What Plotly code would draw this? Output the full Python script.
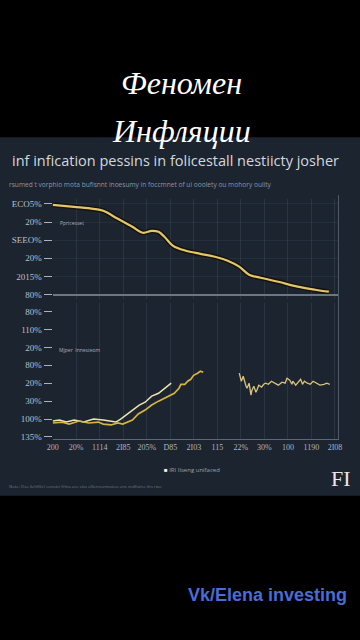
import plotly.graph_objects as go

# ---------------- data ----------------
x_tick_labels = ["200", "20%", "1114", "2I85", "205%", "D85", "2I03", "115", "22%", "30%", "100", "1190", "2I08"]
top_tick_labels = ["80%", "2015%", "20%", "SEEO%", "20%", "ECO5%"]          # values 0..5
bottom_tick_labels = ["135%", "100%", "30%", "20%", "80%", "20%", "110%", "80%"]  # values 0..7

top_x = [0.00, 0.91, 1.74, 2.15, 2.77, 3.39, 3.84, 4.21, 4.50, 4.75, 5.12, 5.66, 6.28, 6.90,
         7.44, 7.93, 8.35, 8.84, 9.59, 10.41, 11.16, 11.74]
top_y = [4.95, 4.84, 4.73, 4.62, 4.18, 3.74, 3.41, 3.52, 3.46, 3.19, 2.69, 2.42, 2.25, 2.09,
         1.87, 1.54, 1.10, 0.93, 0.71, 0.44, 0.27, 0.16]

gold_x = [0.00, 0.41, 0.70, 1.12, 1.53, 1.94, 2.15, 2.48, 2.77, 2.98, 3.39, 3.64, 3.93, 4.21,
          4.50, 4.83, 5.17, 5.37, 5.45, 5.62, 5.74, 5.87, 5.99, 6.16, 6.28, 6.40]
gold_y = [0.78, 0.83, 0.72, 0.89, 0.78, 0.83, 0.72, 0.67, 0.78, 0.72, 0.94, 1.28, 1.50, 1.78,
          2.00, 2.22, 2.44, 2.72, 2.94, 2.94, 3.11, 3.22, 3.44, 3.56, 3.67, 3.61]

pale_x = [0.00, 0.29, 0.58, 0.91, 1.32, 1.74, 2.15, 2.69, 2.89, 3.10, 3.39, 3.68, 3.93, 4.21,
          4.50, 4.75, 5.04]
pale_y = [0.89, 0.94, 0.83, 0.94, 0.83, 1.00, 0.94, 0.83, 1.00, 1.22, 1.50, 1.78, 1.94, 2.28,
          2.44, 2.72, 3.00]

right_x = [7.93, 7.98, 8.02, 8.10, 8.14, 8.22, 8.26, 8.35, 8.43, 8.47, 8.55, 8.64, 8.68, 8.76,
           8.88, 8.97, 9.05, 9.17, 9.30, 9.46, 9.59, 9.75, 9.88, 9.96, 10.08, 10.17, 10.21,
           10.33, 10.41, 10.54, 10.62, 10.70, 10.83, 10.95, 11.07, 11.24, 11.36, 11.53, 11.65, 11.78]
right_y = [3.56, 3.28, 3.11, 3.39, 3.17, 2.83, 2.72, 3.00, 2.33, 2.61, 2.83, 2.50, 2.61, 2.89,
           2.78, 2.94, 3.00, 2.94, 3.11, 3.00, 2.89, 3.06, 3.00, 3.28, 3.17, 2.94, 3.11,
           2.89, 3.00, 3.22, 2.94, 3.11, 3.00, 2.94, 3.11, 3.00, 2.89, 2.94, 3.00, 2.94]

# ---------------- helpers ----------------
W, H = 360, 640
def py(p):  # pixel row -> paper y
    return 1 - p / H
def px(p):
    return p / W

fig = go.Figure()

# top chart line (shadow + line)
fig.add_trace(go.Scatter(x=top_x, y=top_y, mode="lines", xaxis="x", yaxis="y",
                         line=dict(color="#14120a", width=5, shape="spline"), showlegend=False,
                         hoverinfo="skip"))
fig.add_trace(go.Scatter(x=top_x, y=top_y, mode="lines", xaxis="x", yaxis="y",
                         line=dict(color="#e2c669", width=2.2, shape="spline"), showlegend=False))

# bottom chart lines
fig.add_trace(go.Scatter(x=pale_x, y=pale_y, mode="lines", xaxis="x2", yaxis="y2",
                         line=dict(color="#efe3b2", width=1.5), showlegend=False))
fig.add_trace(go.Scatter(x=gold_x, y=gold_y, mode="lines", xaxis="x2", yaxis="y2",
                         line=dict(color="#d6b43e", width=1.7), showlegend=False))
fig.add_trace(go.Scatter(x=right_x, y=right_y, mode="lines", xaxis="x2", yaxis="y2",
                         line=dict(color="#d9c27a", width=1.3), showlegend=False))

grid = "rgba(120,140,165,0.16)"
tick_font = dict(family="Liberation Serif", size=9, color="#b9c0ca")
xr = [0, 12.15]
xdom = [px(48), px(342)]

fig.update_layout(
    width=W, height=H,
    paper_bgcolor="#000000", plot_bgcolor="rgba(0,0,0,0)",
    margin=dict(l=0, r=0, t=0, b=0),
    showlegend=False,
    xaxis=dict(domain=xdom, range=xr, anchor="y", tickvals=list(range(13)),
               showticklabels=False, showgrid=True, gridcolor=grid, zeroline=False,
               ticks=""),
    yaxis=dict(domain=[py(300), py(200)], range=[-0.22, 5.27], anchor="x",
               tickvals=list(range(6)), ticktext=top_tick_labels, tickfont=tick_font,
               ticks="outside", ticklen=8, tickcolor="#aab2bd", tickwidth=1,
               showgrid=True, gridcolor="rgba(120,140,165,0.10)",
               zeroline=True, zerolinecolor="#6c7786", zerolinewidth=1.5),
    xaxis2=dict(domain=xdom, range=xr, anchor="y2", tickvals=list(range(13)),
                ticktext=x_tick_labels, tickfont=dict(family="Liberation Serif", size=8, color="#aeb5bf"),
                showgrid=True, gridcolor=grid, zeroline=False, ticks="",
                showline=True, linecolor="#5d6876", linewidth=1),
    yaxis2=dict(domain=[py(441), py(304)], range=[-0.11, 7.5], anchor="x2",
                tickvals=list(range(8)), ticktext=bottom_tick_labels, tickfont=tick_font,
                ticks="outside", ticklen=8, tickcolor="#aab2bd", tickwidth=1,
                showgrid=False, zeroline=False),
    shapes=[
        dict(type="rect", xref="paper", yref="paper", x0=-0.05, x1=1.05, y0=py(498), y1=py(138),
             fillcolor="#1c2430", line=dict(width=0), layer="below"),
        dict(type="line", xref="paper", yref="paper", x0=px(342), x1=px(342), y0=py(441), y1=py(196),
             line=dict(color="#4f5a68", width=1)),
    ],
)

ann = []
# big script-like title
ann.append(dict(text="<i>Феномен</i>", x=0.5, y=py(83), xref="paper", yref="paper",
                showarrow=False, font=dict(family="Liberation Serif", size=32, color="#ffffff"),
                yanchor="middle"))
ann.append(dict(text="<i>Инфляции</i>", x=0.5, y=py(132), xref="paper", yref="paper",
                showarrow=False, font=dict(family="Liberation Serif", size=32, color="#ffffff"),
                yanchor="middle"))
# chart header
ann.append(dict(text="inf infication pessins in folicestall nestiicty josher", x=px(4), y=py(161),
                xref="paper", yref="paper", xanchor="left", yanchor="middle", showarrow=False,
                font=dict(family="Open Sans", size=14.5, color="#d4d8de")))
ann.append(dict(text="rsumed t vorphio mota bufisnnt inoesumy in foccmnet of ui ooolety ou mohory oulity",
                x=px(1), y=py(185), xref="paper", yref="paper", xanchor="left", yanchor="middle",
                showarrow=False, font=dict(family="Open Sans", size=6.6, color="#8d96a3")))
# in-plot small labels
ann.append(dict(text="Ppricesset", x=px(53), y=py(224), xref="paper", yref="paper",
                xanchor="left", yanchor="middle", showarrow=False,
                font=dict(family="Open Sans", size=5, color="#a9b0ba")))
ann.append(dict(text="Mjper  Innesteom", x=px(52), y=py(352), xref="paper", yref="paper",
                xanchor="left", yanchor="middle", showarrow=False,
                font=dict(family="Open Sans", size=5, color="#a9b0ba")))
# legend-like label
ann.append(dict(text="<span style='color:#eeeeee'>■</span> IRI Ilseng unifaced", x=px(160), y=py(472),
                xref="paper", yref="paper", xanchor="left", yanchor="middle", showarrow=False,
                font=dict(family="Open Sans", size=6, color="#9aa2ad")))
# footnote
ann.append(dict(text="Note: Dse ilehfilicl conotri frlna ure stiu olfenvonmateu ons nrdfutne ths rwe",
                x=px(1), y=py(488), xref="paper", yref="paper", xanchor="left", yanchor="middle",
                showarrow=False, font=dict(family="Open Sans", size=4.3, color="#6f7884")))
# logo
ann.append(dict(text="FI", x=px(345), y=py(481), xref="paper", yref="paper",
                xanchor="center", yanchor="middle", showarrow=False,
                font=dict(family="Liberation Serif", size=22, color="#e8e8e8")))
# watermark
ann.append(dict(text="<b>Vk/Elena investing</b>", x=px(269), y=py(598), xref="paper", yref="paper",
                xanchor="center", yanchor="middle", showarrow=False,
                font=dict(family="Liberation Sans", size=18, color="#4a6cd4")))

fig.update_layout(annotations=ann)
fig.write_html("out.html", config={"displayModeBar": False},
               post_script="document.body.style.margin='0';document.body.style.background='#000';")
